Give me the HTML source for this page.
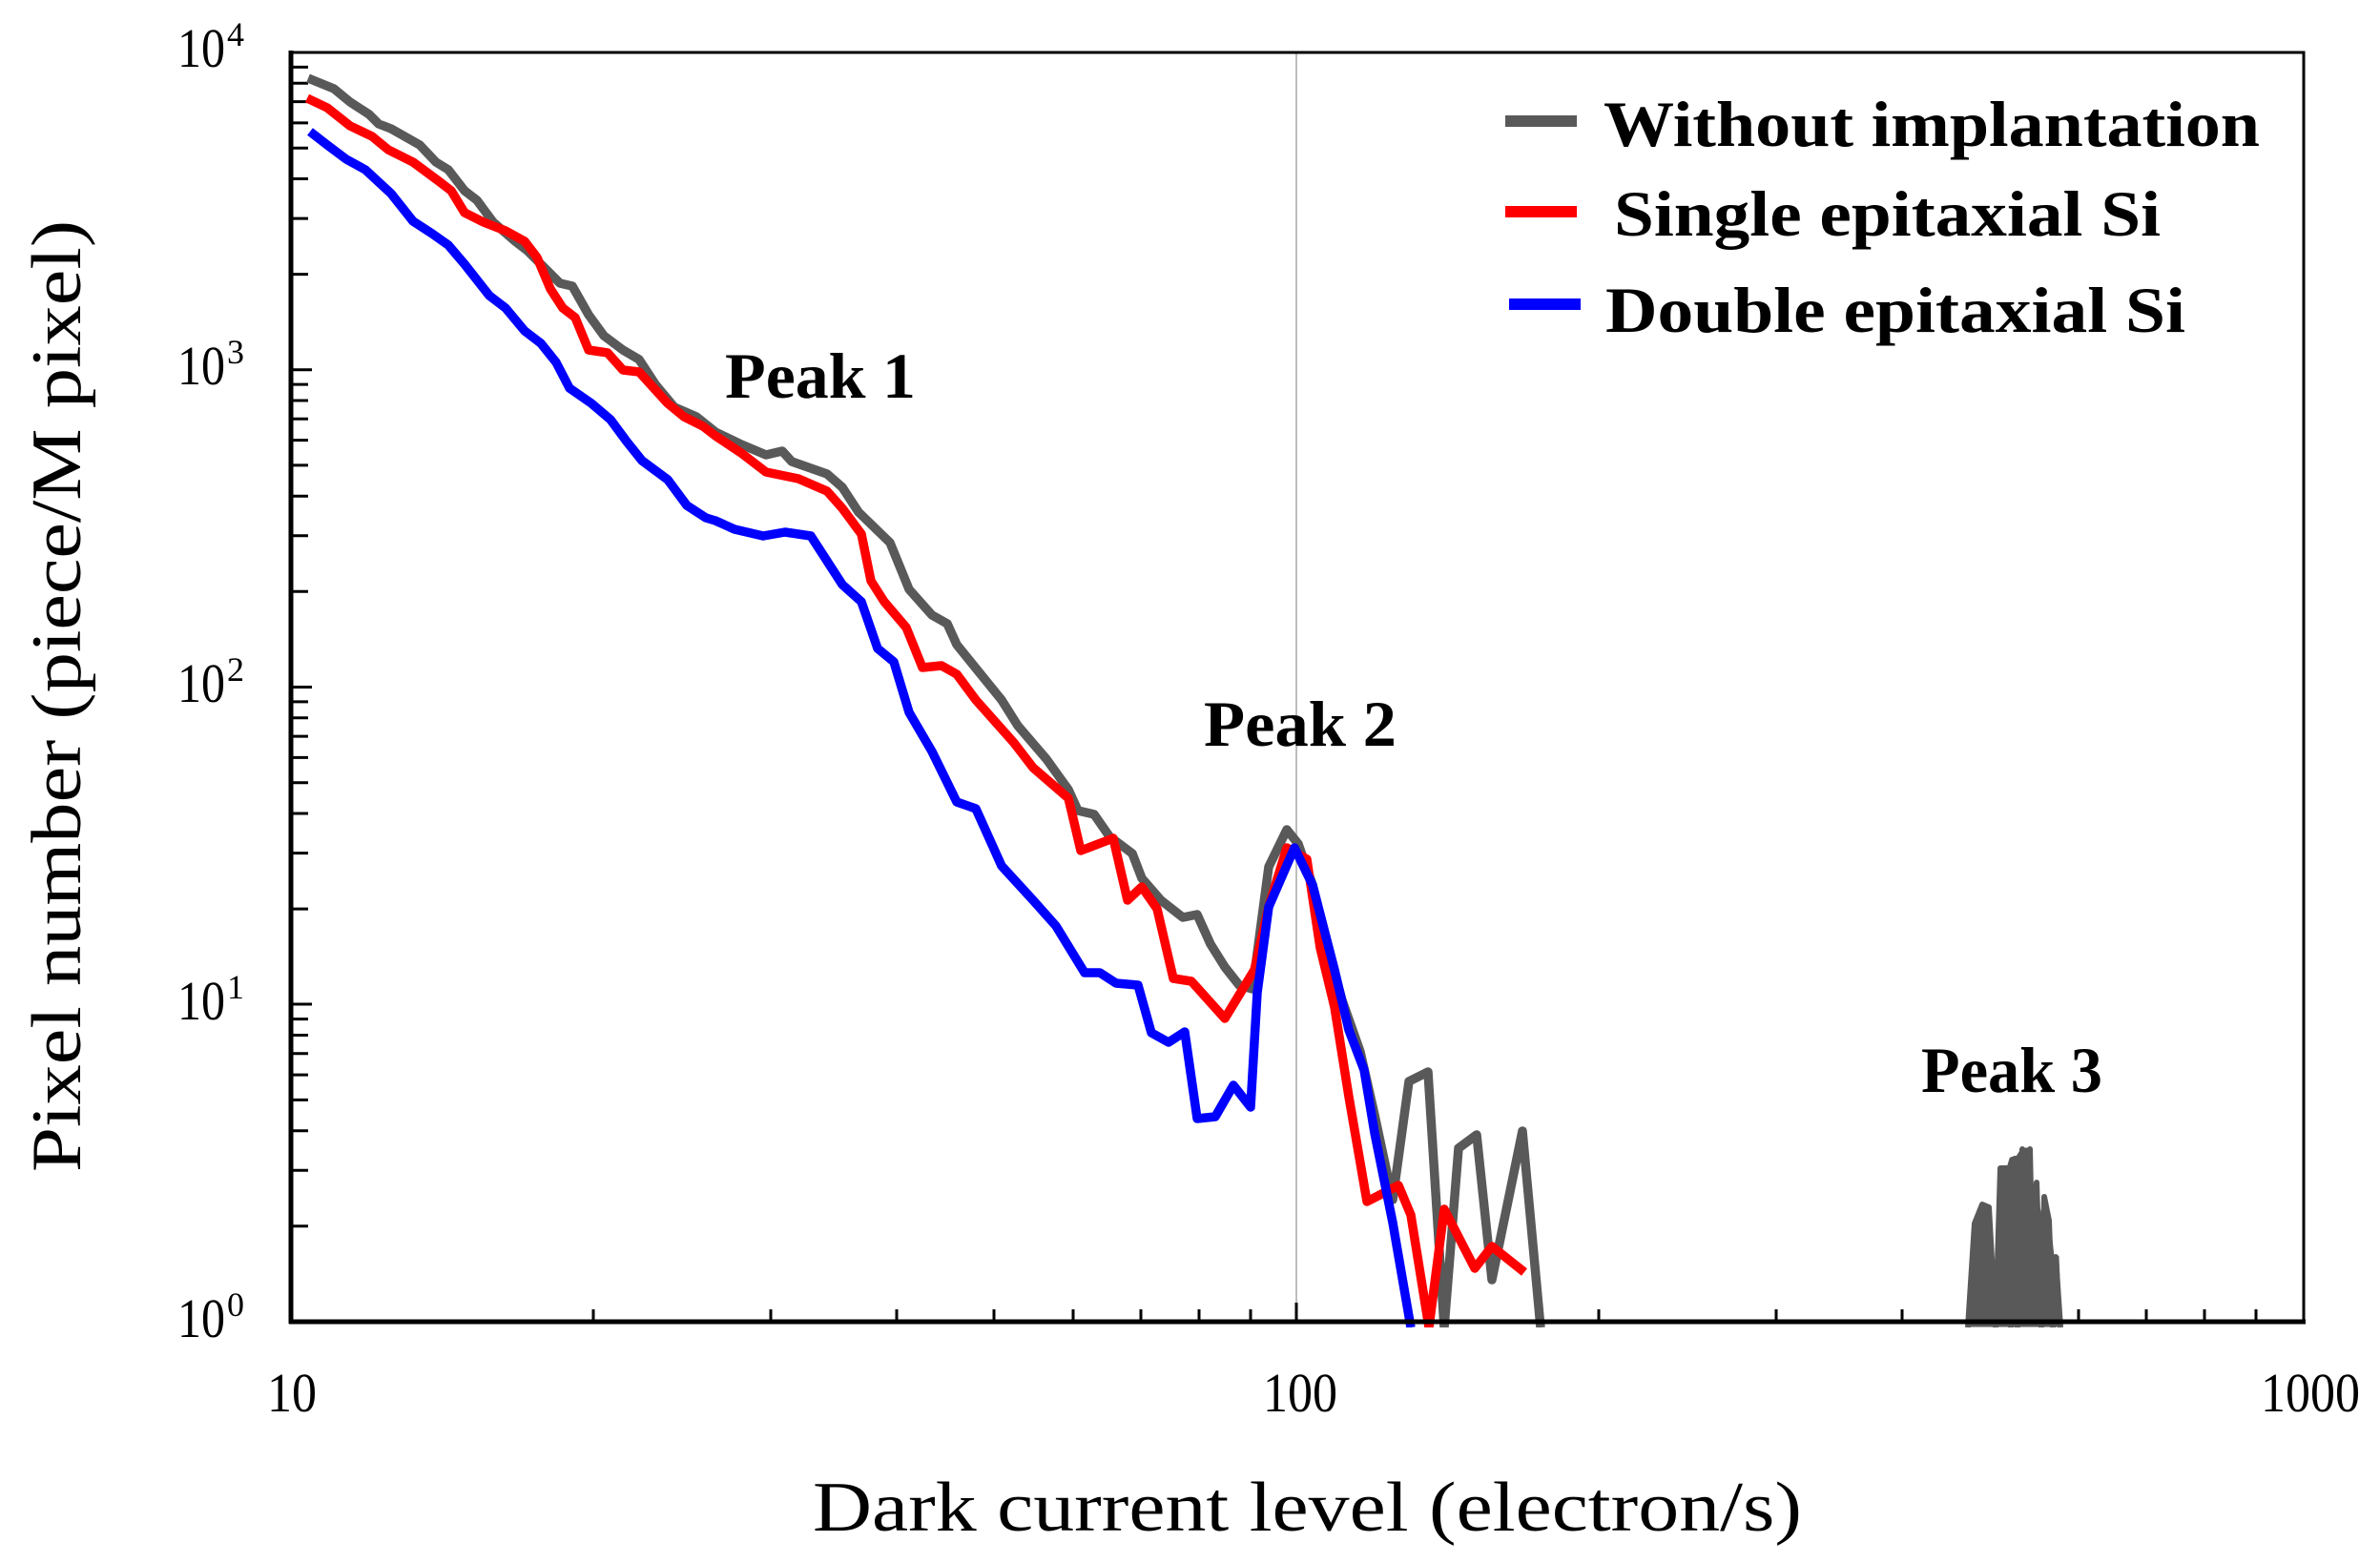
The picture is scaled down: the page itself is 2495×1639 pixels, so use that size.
<!DOCTYPE html>
<html><head><meta charset="utf-8"><style>html,body{margin:0;padding:0;background:#fff}svg{display:block}</style></head>
<body>
<svg width="2495" height="1639" viewBox="0 0 2495 1639" xmlns="http://www.w3.org/2000/svg">
<defs><clipPath id="c"><rect x="305" y="55" width="2110" height="1337"/></clipPath></defs>
<rect width="2495" height="1639" fill="#fff"/>
<line x1="1359" y1="55" x2="1359" y2="1386" stroke="#bdbdbd" stroke-width="2"/>
<g stroke="#000" stroke-width="3">
<path d="M305,1053H327M305,720.5H327M305,387.8H327
M305,1285.8H323M305,1227.3H323M305,1185.7H323M305,1153.4H323M305,1127.1H323M305,1104.8H323M305,1085.5H323M305,1068.6H323
M305,953.1H323M305,894.6H323M305,853H323M305,820.7H323M305,794.4H323M305,772.1H323M305,752.8H323M305,735.9H323
M305,620.3H323M305,561.8H323M305,520.2H323M305,487.9H323M305,461.6H323M305,439.3H323M305,420H323M305,403.1H323
M305,287.6H323M305,229.1H323M305,187.5H323M305,155.2H323M305,128.9H323M305,106.6H323M305,87.3H323M305,70.4H323"/>
<path d="M622,1386V1373M808,1386V1373M940,1386V1373M1042,1386V1373M1125,1386V1373M1196,1386V1373M1257,1386V1373M1311,1386V1373M1359,1386V1366
M1676,1386V1373M1862,1386V1373M1994,1386V1373M2096,1386V1373M2179,1386V1373M2250,1386V1373M2311,1386V1373M2365,1386V1373"/>
</g>
<g clip-path="url(#c)" fill="none" stroke-width="9.5" stroke-linejoin="round">
<polyline stroke="#595959" points="323,82 350,93 367,107 387,120 397,130 410,135 440,152 457,170 470,178 487,200 500,210 517,233 540,253 553,263 573,283 587,297 600,300 617,330 633,352 653,367 670,377 687,403 707,427 730,437 750,453 777,466 803,477 820,473 830,484 867,497 883,511 900,537 933,569 953,618 977,645 993,654 1003,676 1050,734 1067,761 1097,796 1120,828 1130,850 1147,854 1163,877 1187,895 1197,921 1217,944 1240,962 1255,959 1269,990 1284,1014 1299,1033 1313,1037 1330,909 1349,870 1361,885 1376,928 1391,990 1407,1049 1426,1103 1441,1169 1460,1258 1477,1134 1497,1124 1514,1392 1529,1204 1548,1190 1564,1342 1596,1186 1615,1392"/>
<polygon fill="#595959" stroke="#595959" stroke-width="3" points="2063,1390 2070,1283 2078,1263 2085,1266 2090,1390 2095,1390 2097,1225 2105,1225 2108,1215 2115,1213 2120,1205 2127,1205 2130,1240 2135,1255 2140,1280 2148,1280 2152,1318 2157,1318 2160,1390"/>
<polyline stroke="#595959" stroke-width="6" points="2063,1392 2070,1283 2078,1263 2085,1266 2092,1392 2097,1225 2105,1225 2108,1392 2112,1215 2115,1392 2120,1205 2125,1330 2128,1205 2132,1385 2135,1240 2140,1392 2143,1255 2148,1280 2152,1392 2155,1318 2160,1392"/>
<polyline stroke="#ff0000" points="322,103 343,113 367,132 390,143 407,157 433,170 460,190 473,200 487,223 507,233 530,242 550,253 563,270 577,303 590,323 603,333 617,367 637,370 653,388 670,390 700,423 717,437 737,447 750,457 777,475 803,495 837,502 867,515 883,533 903,560 913,609 927,631 950,658 967,700 987,698 1003,707 1023,734 1063,779 1083,805 1120,837 1133,892 1167,879 1182,944 1197,930 1213,953 1230,1026 1249,1029 1284,1068 1315,1017 1330,951 1349,889 1370,901 1384,994 1399,1056 1414,1150 1433,1260 1466,1243 1479,1274 1498,1392 1514,1268 1546,1330 1564,1307 1598,1334"/>
<polyline stroke="#0000ff" points="325,138 343,152 363,167 383,178 410,203 433,232 453,245 470,257 487,277 513,310 530,323 550,347 567,360 583,380 597,407 620,423 640,440 657,463 673,483 700,503 720,530 740,543 750,546 770,555 800,562 823,558 850,562 883,613 903,631 920,680 937,694 953,747 977,788 1003,841 1023,848 1050,908 1083,944 1107,971 1137,1020 1153,1020 1170,1031 1193,1033 1207,1083 1225,1093 1242,1082 1255,1173 1274,1171 1293,1138 1311,1161 1318,1041 1330,951 1357,889 1376,928 1399,1017 1414,1080 1430,1122 1441,1188 1460,1282 1479,1392"/>
</g>
<rect x="305" y="55" width="2110" height="1331" fill="none" stroke="#000" stroke-width="3"/>
<line x1="305" y1="53" x2="305" y2="1388" stroke="#000" stroke-width="5"/>
<line x1="303" y1="1386" x2="2417" y2="1386" stroke="#000" stroke-width="5"/>
<g font-family="Liberation Serif, serif" font-size="58" fill="#000">
<text x="186" y="70" textLength="50" lengthAdjust="spacingAndGlyphs">10</text><text x="238" y="48" font-size="36">4</text>
<text x="186" y="403" textLength="50" lengthAdjust="spacingAndGlyphs">10</text><text x="238" y="381" font-size="36">3</text>
<text x="186" y="736" textLength="50" lengthAdjust="spacingAndGlyphs">10</text><text x="238" y="714" font-size="36">2</text>
<text x="186" y="1069" textLength="50" lengthAdjust="spacingAndGlyphs">10</text><text x="238" y="1047" font-size="36">1</text>
<text x="186" y="1402" textLength="50" lengthAdjust="spacingAndGlyphs">10</text><text x="238" y="1380" font-size="36">0</text>
<text x="280" y="1480" textLength="52" lengthAdjust="spacingAndGlyphs">10</text>
<text x="1324" y="1480" textLength="78" lengthAdjust="spacingAndGlyphs">100</text>
<text x="2370" y="1480" textLength="104" lengthAdjust="spacingAndGlyphs">1000</text>
</g>
<text x="852" y="1605" font-family="Liberation Serif, serif" font-size="74" textLength="1037" lengthAdjust="spacingAndGlyphs">Dark current level (electron/s)</text>
<text transform="translate(84,1229) rotate(-90)" font-family="Liberation Serif, serif" font-size="74" textLength="998" lengthAdjust="spacingAndGlyphs">Pixel number (piece/M pixel)</text>
<g stroke-width="12">
<line x1="1578" y1="127" x2="1653" y2="127" stroke="#595959"/>
<line x1="1578" y1="222" x2="1653" y2="222" stroke="#ff0000"/>
<line x1="1582" y1="319" x2="1657" y2="319" stroke="#0000ff"/>
</g>
<g font-family="Liberation Serif, serif" font-size="68" font-weight="bold" fill="#000">
<text x="1681" y="153" textLength="688" lengthAdjust="spacingAndGlyphs">Without implantation</text>
<text x="1692" y="247" textLength="573" lengthAdjust="spacingAndGlyphs">Single epitaxial Si</text>
<text x="1683" y="348" textLength="608" lengthAdjust="spacingAndGlyphs">Double epitaxial Si</text>
<text x="760" y="417" textLength="200" lengthAdjust="spacingAndGlyphs">Peak 1</text>
<text x="1262" y="782" textLength="202" lengthAdjust="spacingAndGlyphs">Peak 2</text>
<text x="2014" y="1145" textLength="190" lengthAdjust="spacingAndGlyphs">Peak 3</text>
</g>
</svg>
</body></html>
